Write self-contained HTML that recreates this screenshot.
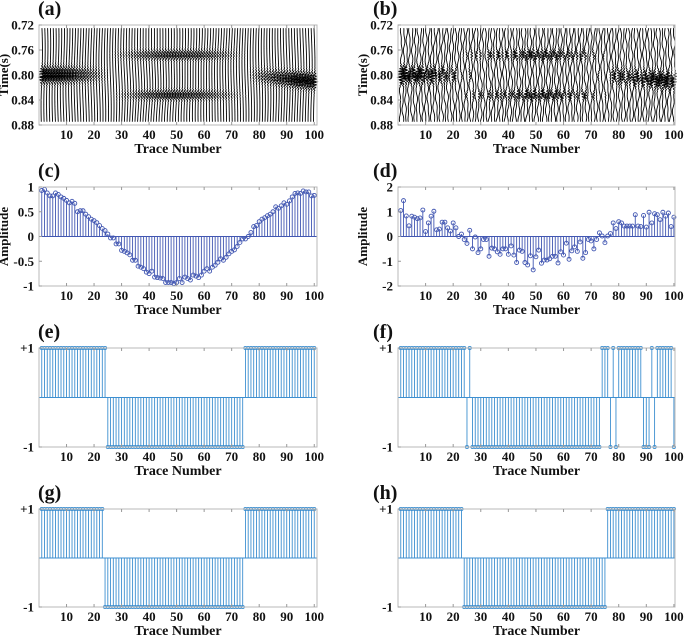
<!DOCTYPE html>
<html><head><meta charset="utf-8"><style>
html,body{margin:0;padding:0;background:#fff;}
svg{display:block;font-family:"Liberation Serif",serif;font-weight:bold;}
</style></head><body>
<svg id="fig" width="685" height="637" viewBox="0 0 685 637"></svg>
<script>
const ampC=[0.93,0.95,0.88,0.82,0.82,0.88,0.85,0.8,0.77,0.73,0.68,0.71,0.67,0.5,0.52,0.52,0.45,0.4,0.35,0.32,0.28,0.22,0.16,0.12,0.05,-0.03,-0.03,-0.15,-0.15,-0.28,-0.3,-0.33,-0.37,-0.48,-0.48,-0.6,-0.62,-0.65,-0.72,-0.75,-0.7,-0.82,-0.83,-0.84,-0.85,-0.93,-0.93,-0.93,-0.95,-0.93,-0.85,-0.93,-0.82,-0.85,-0.88,-0.78,-0.8,-0.83,-0.78,-0.7,-0.65,-0.7,-0.62,-0.58,-0.52,-0.45,-0.48,-0.42,-0.35,-0.3,-0.27,-0.2,-0.12,-0.05,-0.05,0.0,0.08,0.2,0.22,0.3,0.35,0.38,0.42,0.45,0.5,0.6,0.57,0.62,0.68,0.65,0.72,0.8,0.87,0.88,0.87,0.92,0.9,0.9,0.82,0.83];
const ampD=[1.05,1.45,0.83,0.43,0.82,0.78,0.72,0.75,1.07,0.2,0.55,0.82,1.02,0.27,0.3,0.58,0.58,0.35,0.22,0.55,0.35,0.0,0.1,-0.12,-0.28,0.25,-0.5,-0.02,-0.65,-0.5,-0.12,-0.12,-0.8,-0.47,-0.5,-0.62,-0.72,-0.5,-0.5,-0.72,-0.38,-0.75,-1.05,-0.55,-0.6,-1.05,-1.15,-0.78,-1.35,-0.82,-0.55,-1.08,-0.95,-0.95,-0.9,-0.8,-0.8,-1.07,-0.62,-0.75,-0.27,-0.92,-0.58,-0.42,-0.6,-0.22,-0.88,-0.65,-0.12,-0.18,-0.5,-0.12,0.15,0.02,-0.25,0.02,0.12,0.55,0.32,0.6,0.55,0.42,0.42,0.42,0.42,0.88,0.42,0.4,0.85,0.38,0.98,0.55,0.92,0.88,0.68,0.98,0.82,0.95,0.4,0.78];
function runs(list){const v=[];list.forEach(([s,n])=>{for(let k=0;k<n;k++)v.push(s);});return v;}
const signE=runs([[1,24],[-1,50],[1,26]]);
const signF=runs([[1,24],[-1,1],[1,1],[-1,47],[1,3],[-1,1],[1,1],[-1,1],[1,9],[-1,3],[1,1],[-1,1],[1,6],[-1,1]]);
const signG=runs([[1,23],[-1,51],[1,26]]);
const signH=runs([[1,23],[-1,52],[1,25]]);
const timeTicks=["0.72","0.76","0.80","0.84","0.88"];
const traceTicks=[10,20,30,40,50,60,70,80,90,100];

const NS="http://www.w3.org/2000/svg";
const svg=document.getElementById('fig');
function el(tag,attrs,parent){const e=document.createElementNS(NS,tag);for(const k in attrs)e.setAttribute(k,attrs[k]);(parent||svg).appendChild(e);return e;}
function txt(x,y,s,size,anchor,parent){const t=el('text',{x:x,y:y,'font-size':size,'text-anchor':anchor||'middle',fill:'#111'},parent);t.textContent=s;return t;}

const cols=[{x0:39,x1:317,xmax:101},{x0:398,x1:675,xmax:100.4}];
function xs(c,v){return c.x0+(v/c.xmax)*(c.x1-c.x0);}
function panel(name,col,top,bot,label){
  const g=el('g',{});
  
  
  const c=cols[col];
  const lb=txt(col?c.x0-25:c.x0-1,top-10,label,20,'start',g);
  
  
  return {g,c,top,bot};
}
function box(p){
  const r=el('rect',{x:p.c.x0,y:p.top,width:p.c.x1-p.c.x0,height:p.bot-p.top,fill:'none',stroke:'#b8b8b8','stroke-width':1},p.g);
  
  
}
function xticks(p,withTitle){
  traceTicks.forEach(v=>{
    const x=xs(p.c,v);
    el('line',{x1:x,y1:p.bot,x2:x,y2:p.bot-3,stroke:'#999'},p.g);
    el('line',{x1:x,y1:p.top,x2:x,y2:p.top+3,stroke:'#999'},p.g);
    const t=txt(x,p.bot+14,String(v),13,'middle',p.g);
    
    
  });
  if(withTitle){
    const t=txt((p.c.x0+p.c.x1)/2,p.bot+28,'Trace Number',14,'middle',p.g);
    
    
  }
}
function yticks(p,vals,ymin,ymax,labels){
  const ys=v=>p.bot-(v-ymin)/(ymax-ymin)*(p.bot-p.top);
  vals.forEach((v,i)=>{
    const y=ys(v);
    el('line',{x1:p.c.x0,y1:y,x2:p.c.x0+3,y2:y,stroke:'#999'},p.g);
    const t=txt(p.c.x0-5,y+4.5,labels[i],13,'end',p.g);
    
    
  });
  return ys;
}
function ytitle(p,s,offset){
  const cy=(p.top+p.bot)/2, x=p.c.x0-offset;
  const t=txt(x,cy,s,13,'middle',p.g);
  t.setAttribute('transform','rotate(-90 '+x+' '+cy+')');
  
  
}
function g(t,c,s){const u=(t-c)/s;return Math.exp(-u*u);}
function seismic(name,col,label,amps,noise){
  const p=panel(name,col,25,125,label);
  const ys=v=>p.top+(v-0.72)/(0.88-0.72)*(p.bot-p.top);
  for(let i=1;i<=100;i++){
    const x0=xs(p.c,i);
    const a=amps[i-1];
    const t0=0.80+(i>75?0.01*(i-75)/25:0);
    let d='';
    for(let t=0.725;t<=0.8755;t+=0.0007){
      let env;
      if(a>=0) env=a*g(t,t0,0.012);
      else env=-a*0.6*(g(t,0.768,0.008)+g(t,0.832,0.008));
      const osc=Math.sin(2*Math.PI*(t-t0)/0.0045);
      let sway=0.7*Math.sin((t-0.72)*35+i*0.12)+0.5*(a<0?-a:0)*Math.sin((t-0.80)*60);
      if(noise) sway+=0.5*Math.sin(t*140+i*2.3)+0.4*Math.sin(t*260+i*4.1);
      const x=x0+3.2*env*osc+sway;
      d+=(d?'L':'M')+x.toFixed(2)+' '+ys(t).toFixed(2);
    }
    const pth=el('path',{d:d,fill:'none',stroke:'#000','stroke-width':0.9},p.g);
    
    
  }
  box(p);
  yticks(p,[0.88,0.84,0.80,0.76,0.72],0.88,0.72,timeTicks.slice().reverse());
  xticks(p,true);
  ytitle(p,'Time(s)',31);
}
function stemPanel(name,col,top,bot,label,vals,ymin,ymax,tickVals,tickLabels,color,mr,title,ytit){
  const p=panel(name,col,top,bot,label);
  const ys=v=>p.bot-(v-ymin)/(ymax-ymin)*(p.bot-p.top);
  el('line',{x1:p.c.x0,y1:ys(0),x2:p.c.x1,y2:ys(0),stroke:color,'stroke-width':1},p.g);
  vals.forEach((v,i)=>{
    const x=xs(p.c,i+1);
    const s=el('line',{x1:x,y1:ys(0),x2:x,y2:ys(v),stroke:color,'stroke-width':0.9},p.g);
    
    
    const m=el('circle',{cx:x,cy:ys(v),r:mr,fill:'none',stroke:color,'stroke-width':0.9},p.g);
    
    
  });
  box(p);
  yticks(p,tickVals,ymin,ymax,tickLabels);
  xticks(p,title);
  if(ytit) ytitle(p,ytit,31);
}
seismic('panel-a-seismic',0,'(a)',ampC,false);
seismic('panel-b-seismic',1,'(b)',ampD,true);
stemPanel('panel-c-amplitude',0,187,286,'(c)',ampC,-1,1,[-1,-0.5,0,0.5,1],['-1','-0.5','0','0.5','1'],'#4257b2',2,true,'Amplitude');
stemPanel('panel-d-amplitude',1,187,286,'(d)',ampD,-2,2,[-2,-1,0,1,2],['-2','-1','0','1','2'],'#4257b2',2,true,'Amplitude');
stemPanel('panel-e-sign',0,348,447,'(e)',signE,-1,1,[-1,1],['-1','+1'],'#3d8fd0',1.6,true,null);
stemPanel('panel-f-sign',1,348,447,'(f)',signF,-1,1,[-1,1],['-1','+1'],'#3d8fd0',1.6,true,null);
stemPanel('panel-g-sign',0,509,607,'(g)',signG,-1,1,[-1,1],['-1','+1'],'#3d8fd0',1.6,true,null);
stemPanel('panel-h-sign',1,509,607,'(h)',signH,-1,1,[-1,1],['-1','+1'],'#3d8fd0',1.6,true,null);
</script>
</body></html>
